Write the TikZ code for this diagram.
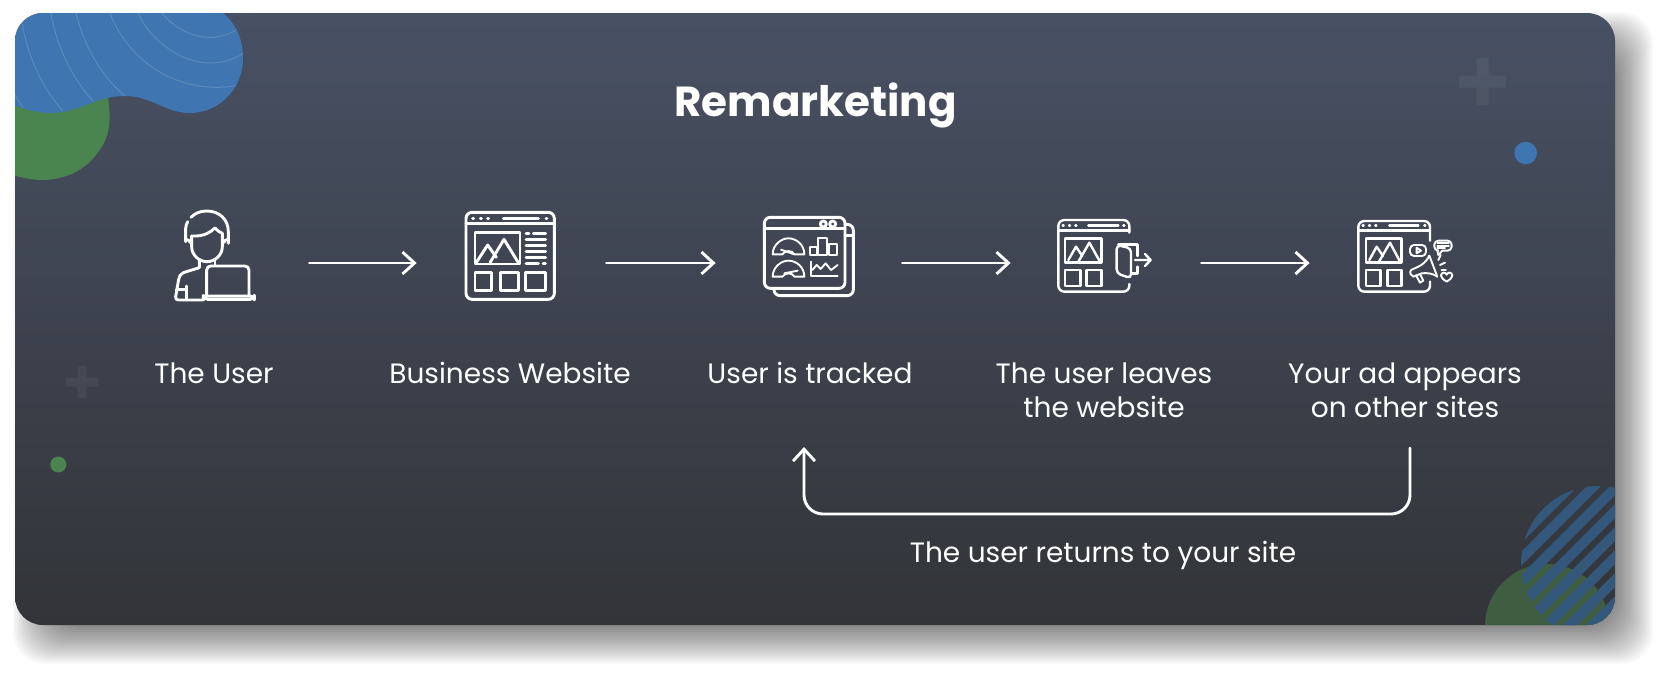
\documentclass[tikz,border=0pt]{standalone}
\usepackage{fontspec}
\setmainfont{Poppins}
\usetikzlibrary{arrows.meta}
\definecolor{cardtop}{HTML}{485164}
\definecolor{cardmid}{HTML}{3F444E}
\definecolor{cardbot}{HTML}{323438}
\definecolor{blobblue}{HTML}{3F75B0}
\definecolor{blobgreen}{HTML}{4A844E}
\definecolor{stripeblue}{HTML}{34577C}
\definecolor{circgreen}{HTML}{3F5E41}
\tikzset{
  iconline/.style={draw=white,line width=1.45pt,line cap=round,line join=round},
  thinicon/.style={draw=white,line width=1.2pt,line cap=round,line join=round},
  fineicon/.style={draw=white,line width=.95pt,line cap=round,line join=round},
  contour/.style={draw=white,draw opacity=.15,line width=.5pt},
  anchorbox/.style={inner sep=0pt,minimum height=90pt},
  flowarrow/.style={draw=white,line width=1.45pt,line cap=round,-{Straight Barb[length=6pt,width=11pt,line width=1.45pt]}},
  steplabel/.style={text=white,font=\fontsize{14}{17}\selectfont,align=center,anchor=center},
  titletext/.style={text=white,font=\fontsize{21}{26}\bfseries\selectfont,anchor=center}
}
\newcommand{\cardpath}{[rounded corners=14pt] (15,13) rectangle (1615,625)}
\begin{document}
\begin{tikzpicture}[x=.5pt,y=-.5pt]
\useasboundingbox (0,0) rectangle (1663,675);
\fill[white] (0,0) rectangle (1663,675);
% shadow
\foreach \r in {-16,-14,...,20}{
  \fill[black,opacity=.028,rounded corners=16pt] (15+18-\r,13+19-\r) rectangle (1615+18+\r,625+19+\r);
}
% card
\shade[top color=cardtop,middle color=cardmid,bottom color=cardbot,rounded corners=14pt] (15,13) rectangle (1615,625);
\begin{scope}
\clip \cardpath;
% green blob
\fill[blobgreen] (10,100) -- (107,90) .. controls (111,115) and (112,135) .. (98,152)
  .. controls (85,172) and (62,180) .. (42,180) .. controls (32,180) and (22,178) .. (10,174) -- cycle;
% blue blob
\fill[blobblue] (10,5) -- (210,5) .. controls (232,15) and (243,35) .. (243,58)
  .. controls (243,90) and (218,113) .. (190,113) .. controls (165,113) and (152,96) .. (125,96)
  .. controls (95,96) and (80,113) .. (50,113) .. controls (35,113) and (22,108) .. (10,104) -- cycle;
\begin{scope}
\clip (10,5) -- (210,5) .. controls (232,15) and (243,35) .. (243,58)
  .. controls (243,90) and (218,113) .. (190,113) .. controls (165,113) and (152,96) .. (125,96)
  .. controls (95,96) and (80,113) .. (50,113) .. controls (35,113) and (22,108) .. (10,104) -- cycle;
\draw[contour] (162,13) .. controls (175,30) and (210,52) .. (245,24);
\draw[contour] (138,13) .. controls (155,50) and (205,80) .. (245,52);
\draw[contour] (110,13) .. controls (125,55) and (175,100) .. (245,84);
\draw[contour] (76,13) .. controls (84,45) and (100,75) .. (125,96);
\draw[contour] (51,13) .. controls (56,45) and (72,78) .. (93,101);
\draw[contour] (22,22) .. controls (27,55) and (42,88) .. (63,111);
\draw[contour] (15,95) -- (23,108);
\end{scope}
% lower right
\fill[circgreen] (1547,626) circle[radius=62];
\begin{scope}
\clip (1598,563) circle[radius=77];
\foreach \s in {2050,2073,...,2240}{
  \fill[stripeblue] (\s-700,700) -- (\s+14-700,700) -- (\s+14-400,400) -- (\s-400,400) -- cycle;
}
\end{scope}
% decorations
\fill[white,opacity=.05] (1459,75.5) rectangle (1506,87.5) (1476.5,58) rectangle (1488.5,75.5) (1476.5,87.5) rectangle (1488.5,105);
\fill[blobblue] (1525.7,153) circle[radius=11.3];
\fill[white,opacity=.05] (65.5,377.5) rectangle (98,386.5) (77.5,366) rectangle (86.5,377.5) (77.5,386.5) rectangle (86.5,398);
\fill[blobgreen] (58.3,464.5) circle[radius=8];
\end{scope}

\node[titletext] (title) at (815.5,105.5) {Remarketing};

% anchor boxes: icon areas, spanning the gap between two arrows
\node[anchorbox,minimum width=144*.5pt] (user) at (237,263) {};
\node[anchorbox,minimum width=189*.5pt] (site) at (511.5,263) {};
\node[anchorbox,minimum width=186*.5pt] (track) at (809,263) {};
\node[anchorbox,minimum width=190*.5pt] (leave) at (1106,263) {};
\node[anchorbox,minimum width=190*.5pt] (ads) at (1405,263) {};

\draw[flowarrow] (user.east) -- (site.west);
\draw[flowarrow] (site.east) -- (track.west);
\draw[flowarrow] (track.east) -- (leave.west);
\draw[flowarrow] (leave.east) -- (ads.west);

\node[steplabel] (luser) at (214,373) {The User};
\node[steplabel] (lsite) at (510,373) {Business Website};
\node[steplabel] (ltrack) at (810,373) {User is tracked};
\node[steplabel] (lleave) at (1104,390) {The user leaves\\the website};
\node[steplabel] (lads) at (1405,390) {Your ad appears\\on other sites};
\node[steplabel] (lret) at (1103,555) {The user returns to your site};

\coordinate (retstart) at (1410,448);
\coordinate (retend) at (804,447);
\coordinate (retlow) at (1100,514);
\draw[flowarrow,rounded corners=9.5pt] (retstart) -- (retstart |- retlow) -- (retend |- retlow) -- (retend);

% user icon
\begin{scope}[shift={(165,200)},scale=.3333,iconline]
\draw (62,125) -- (62,85) .. controls (62,78) and (65,71) .. (68,65);
\draw (78,52) .. controls (90,40) and (105,33) .. (125,33) .. controls (165,33) and (190,60) .. (190,95) -- (190,130);
\draw (80,108) .. controls (115,110) and (135,98) .. (150,84) .. controls (158,92) and (165,98) .. (172,100) -- (172,140)
  .. controls (172,165) and (150,185) .. (126,185) .. controls (102,185) and (80,165) .. (80,140) -- cycle;
\draw (62,118) .. controls (70,118) and (74,122) .. (76,128);
\draw (190,118) .. controls (182,118) and (178,122) .. (176,128);
\draw (103,178) -- (103,203) -- (55,218) .. controls (46,222) and (42,230) .. (41,238) -- (32,290) .. controls (31,296) and (34,300) .. (40,300) -- (112,300);
\draw (150,178) -- (150,196);
\draw (34,268) -- (65,268) -- (65,258) (65,268) -- (65,300);
\draw[rounded corners=2pt] (125,288) -- (125,198) -- (252,198) -- (252,288);
\draw[rounded corners=2pt] (115,288) -- (268,288) -- (268,298) -- (115,298) -- cycle;
\end{scope}

% website icon
\begin{scope}[shift={(455,200)},scale=.3333,iconline]
\draw[rounded corners=3pt] (33,37) rectangle (298,298);
\draw (33,70) -- (298,70);
\draw (53,55) -- (56,55) (76,55) -- (79,55) (98,55) -- (101,55) (145,55) -- (250,55) (273,55) -- (276,55);
\draw (60,98) rectangle (195,192);
\draw (65,186) -- (98,135) -- (124,172) (105,188) -- (147,118) -- (190,188);
\draw (213,100) -- (222,100) (235,100) -- (272,100) (213,118) -- (272,118) (213,136) -- (272,136)
  (213,154) -- (272,154) (213,172) -- (272,172) (213,190) -- (250,190) (264,190) -- (271,190);
\draw (60,217) rectangle (110,272) (137,217) rectangle (190,272) (212,217) rectangle (272,272);
\end{scope}

% dashboard icon
\begin{scope}[shift={(755,205)},scale=.3333,iconline]
\draw[rounded corners=3pt] (28,37) rectangle (270,250);
\draw (28,70) -- (270,70);
\draw (205,57) circle[radius=9] (233,57) circle[radius=9];
\draw[rounded corners=3pt] (270,58) -- (295,58) -- (295,272) -- (57,272) -- (57,250);
\draw (270,92) -- (295,92);
\begin{scope}[fineicon]
\draw (53,148) .. controls (53,120) and (78,100) .. (100,100) .. controls (125,100) and (148,120) .. (148,148) -- (118,148)
  .. controls (112,135) and (90,135) .. (82,148) -- cycle;
\draw (78,134) -- (118,148);
\draw (53,215) .. controls (53,187) and (78,167) .. (100,167) .. controls (125,167) and (148,187) .. (148,215) -- (118,215)
  .. controls (112,202) and (90,202) .. (82,215) -- cycle;
\draw (88,205) -- (128,197);
\draw (165,150) -- (165,125) -- (185,125) -- (185,150) -- cycle (190,150) -- (190,100) -- (215,100) -- (215,150) -- cycle
  (222,150) -- (222,118) -- (245,118) -- (245,150) -- cycle;
\draw (168,170) -- (168,212) -- (248,212);
\draw (172,195) -- (185,180) -- (197,192) -- (212,175) -- (228,195) -- (248,180);
\end{scope}
\end{scope}

% leaving icon
\begin{scope}[shift={(1050,210)},scale=.3333,thinicon]
\draw[rounded corners=3pt] (238,68) -- (238,30) -- (25,30) -- (25,245) -- (238,245) -- (238,222);
\draw (25,62) -- (238,62);
\draw (38,47) -- (41,47) (57,47) -- (60,47) (76,47) -- (79,47) (115,47) -- (205,47) (220,47) -- (223,47);
\draw (45,85) rectangle (155,158);
\draw (55,150) -- (78,110) -- (97,138) (85,155) -- (118,98) -- (150,155);
\draw (45,180) rectangle (92,228) (110,180) rectangle (155,228);
\draw[rounded corners=2pt] (200,105) -- (243,115) -- (243,205) -- (200,190) -- cycle;
\draw (205,103) -- (262,103) -- (262,138) (262,170) -- (262,190) -- (243,190);
\draw (255,150) -- (300,150) (285,132) -- (302,150) -- (285,168);
\end{scope}

% advert icon
\begin{scope}[shift={(1350,210)},scale=.3333,thinicon]
\draw[rounded corners=3pt] (240,92) -- (240,33) -- (25,33) -- (25,245) -- (240,245) -- (240,215);
\draw (25,62) -- (240,62);
\draw (38,47) -- (41,47) (57,47) -- (60,47) (76,47) -- (79,47) (118,47) -- (205,47) (223,47) -- (226,47);
\draw (48,85) rectangle (155,158);
\draw (58,150) -- (80,110) -- (99,138) (87,155) -- (120,98) -- (150,155);
\draw (48,180) rectangle (92,228) (112,180) rectangle (155,228);
\begin{scope}[fineicon]
\draw[rounded corners=2pt] (180,105) rectangle (228,138);
\draw (200,113) -- (213,122) -- (200,130) -- cycle;
\draw[rounded corners=2pt] (262,122) -- (253,122) -- (253,92) -- (305,92) -- (305,122) -- (277,122);
\draw (262,122) -- (265,135) -- (277,122);
\draw (262,100) -- (297,100) (262,108) -- (297,108) (262,115) -- (285,115);
\draw (238,137) -- (262,200);
\draw (238,137) .. controls (230,155) and (215,165) .. (205,170) -- (183,180) .. controls (178,188) and (182,198) .. (190,200) -- (215,190) .. controls (230,188) and (250,190) .. (262,200);
\draw (198,196) -- (210,218) -- (220,212) -- (210,192);
\draw (265,150) -- (272,135) (270,165) -- (285,158) (275,180) -- (288,180);
\draw (290,215) .. controls (280,208) and (273,204) .. (273,197) .. controls (273,187) and (286,184) .. (290,194) .. controls (294,184) and (307,187) .. (307,197) .. controls (307,204) and (300,208) .. (290,215) -- cycle;
\end{scope}
\end{scope}
\end{tikzpicture}
\end{document}
